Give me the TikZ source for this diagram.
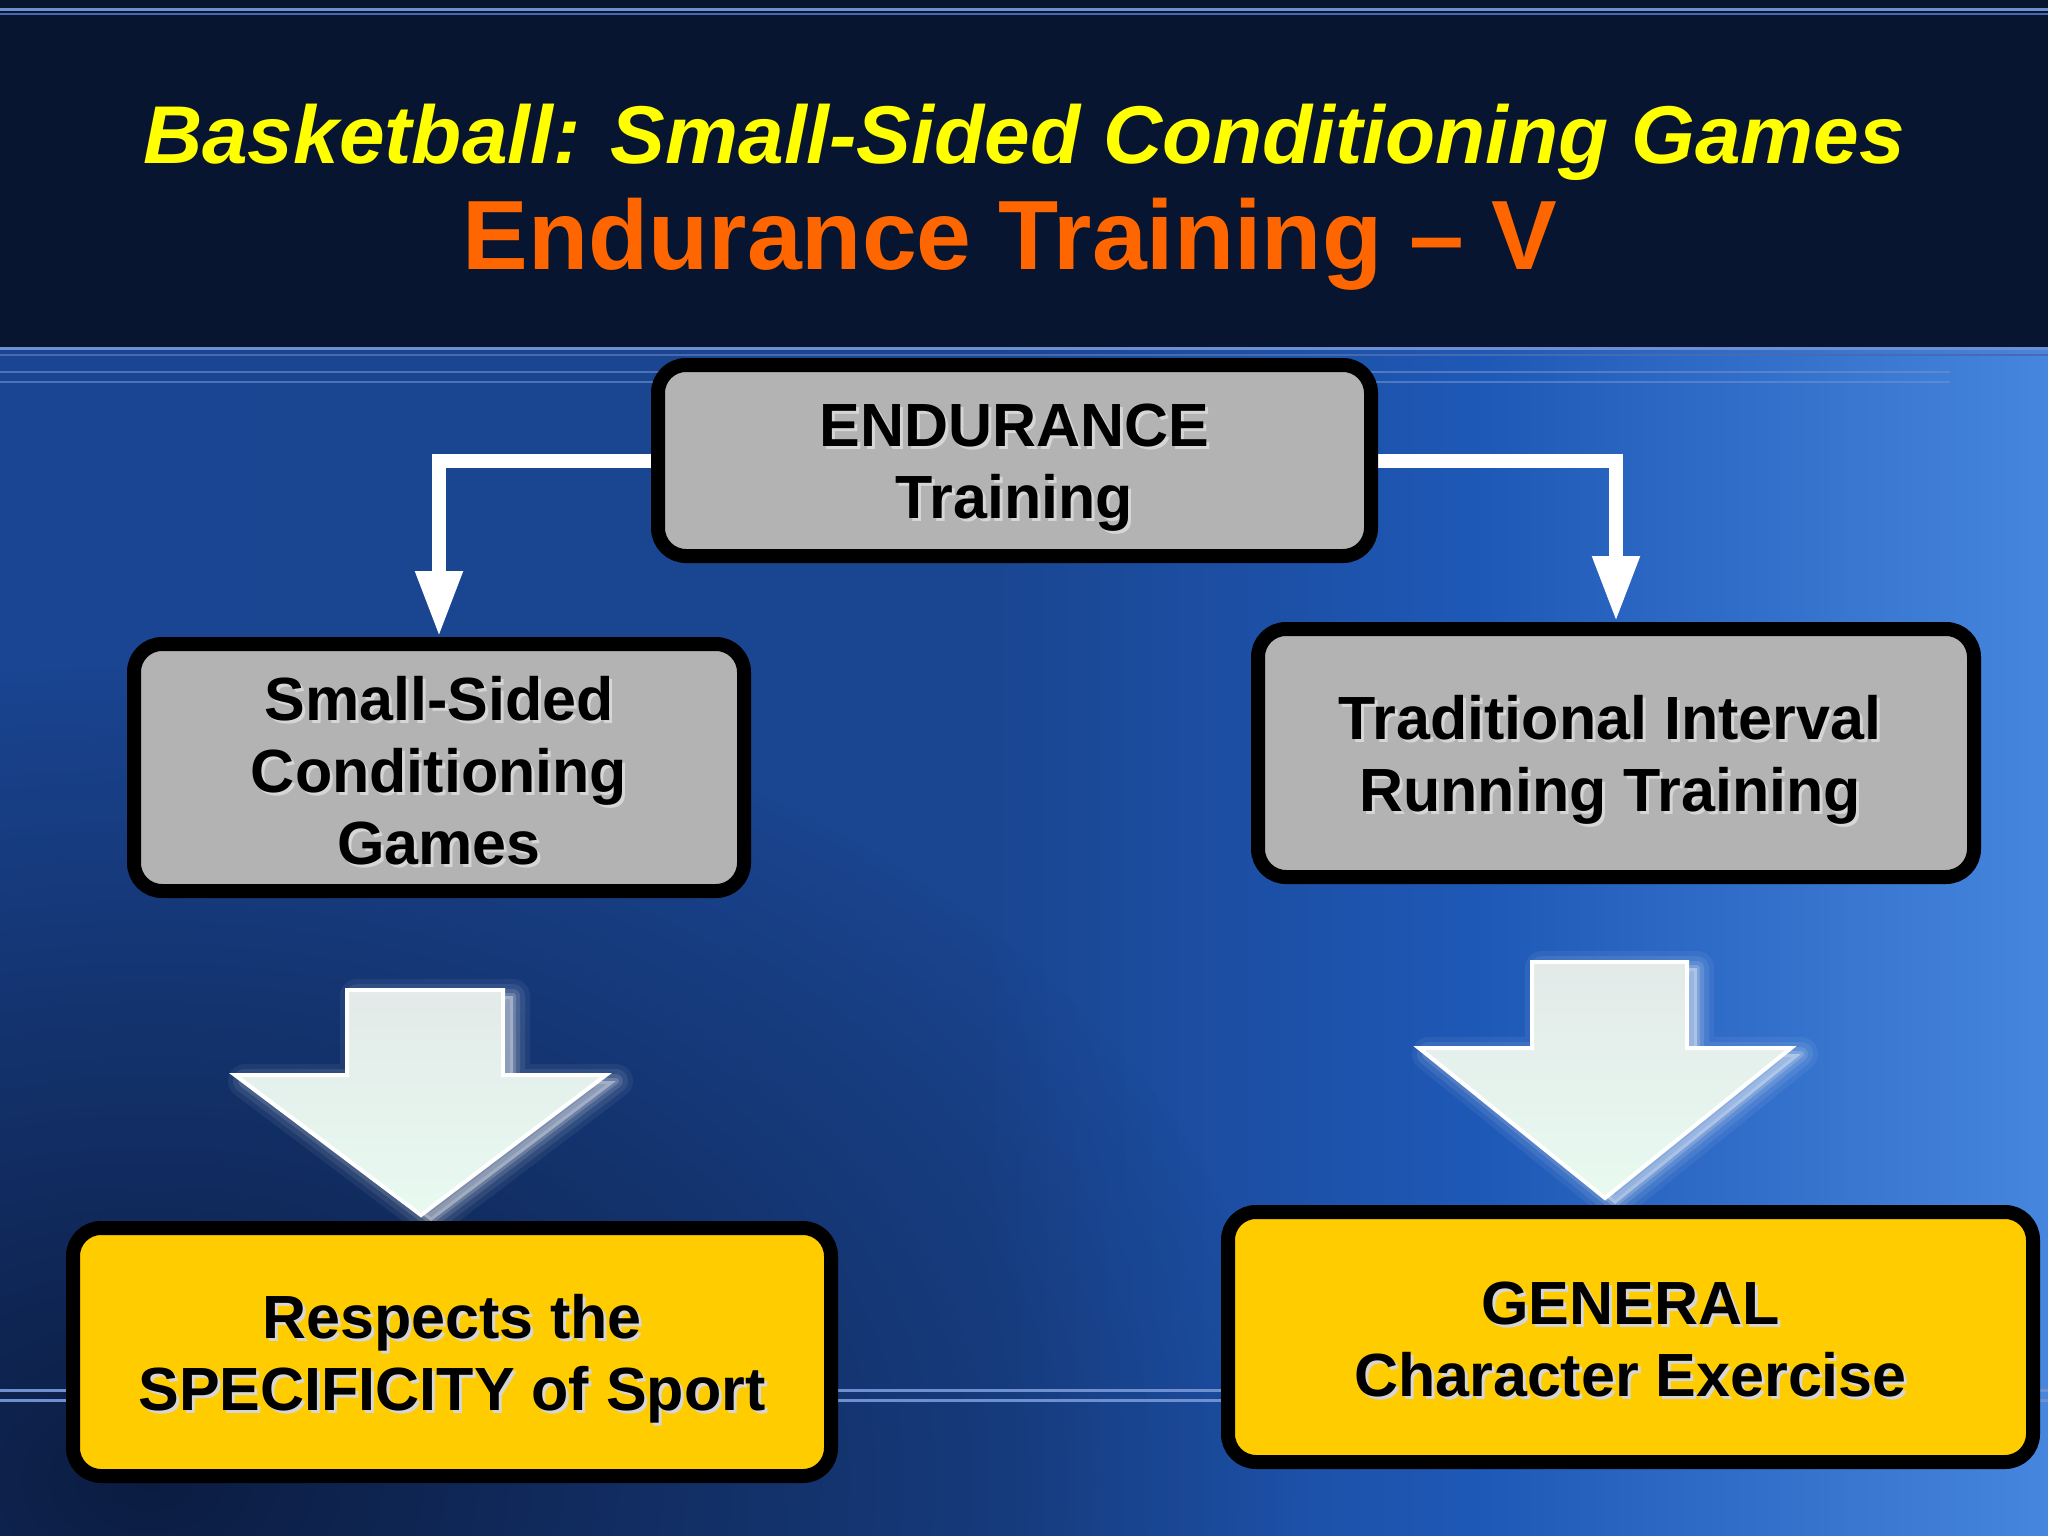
\documentclass[tikz,border=0pt]{standalone}
\usepackage{fontspec}
\setmainfont{Liberation Sans}
\usetikzlibrary{arrows.meta,fadings,backgrounds}

\definecolor{hdr}{HTML}{081530}
\definecolor{hlineA}{HTML}{6F90D0}
\definecolor{hlineB}{HTML}{4A6AB0}
\definecolor{boxgrey}{HTML}{B3B3B3}
\definecolor{boxyellow}{HTML}{FFCC00}
\definecolor{ttlyellow}{HTML}{FFFF00}
\definecolor{ttlorange}{HTML}{FF6600}
\definecolor{tshadow}{HTML}{D6D6D6}
\definecolor{mint}{HTML}{E8FAF0}
\definecolor{mintgrey}{HTML}{E3EAE9}
\definecolor{navy}{HTML}{0A1838}
\definecolor{bgA}{HTML}{1A4592}
\definecolor{bgB}{HTML}{1A4590}
\definecolor{bgC}{HTML}{1E58B6}
\definecolor{bgD}{HTML}{4686DE}

\pgfdeclarehorizontalshading{bgshade}{100bp}{color(0bp)=(bgA); color(25bp)=(bgA); color(49bp)=(bgB); color(61bp)=(bgC); color(75bp)=(bgD); color(100bp)=(bgD)}
\tikzfading[name=radfade, inner color=transparent!0, outer color=transparent!100]

\newcommand\shd[1]{\leavevmode\rlap{\kern3pt\raisebox{-3pt}{\textcolor{tshadow}{#1}}}#1}

\tikzset{
  box/.style={draw=black, line width=14pt, rounded corners=28pt, inner sep=0pt},
  gbox/.style={box, fill=boxgrey},
  ybox/.style={box, fill=boxyellow},
  boxtext/.style={align=center, inner sep=0pt, font=\fontsize{61}{72}\selectfont\bfseries, text=black},
  conn/.style={draw=white, line width=14pt, -{Triangle[width=44pt,length=66pt]}},
  bigarrow/.style={top color=mintgrey, bottom color=mint, draw=white, line width=4pt, line join=miter},
  glow/.style={draw=white, line join=round, fill=white},
}

\begin{document}
\begin{tikzpicture}[x=1pt,y=-1pt]
\useasboundingbox (0,0) rectangle (2048,1535);

\begin{pgfonlayer}{background}
  % blue background
  \shade[shading=bgshade] (0,340) rectangle (2048,1535);
  \fill[navy, path fading=radfade, fill opacity=0.9] (150,1480) ellipse [x radius=1150, y radius=820];
  % header
  \fill[hdr] (0,0) rectangle (2048,348);
  \draw[hlineA, line width=3pt] (0,9) -- (2048,9);
  \draw[hlineB, line width=2pt] (0,14) -- (2048,14);
  \draw[hlineA, line width=3pt] (0,348) -- (2048,348);
  \draw[hlineB, line width=2pt] (0,355) -- (2048,355);
  \draw[hlineA, line width=2pt, opacity=0.6] (0,372) -- (1950,372);
  \draw[hlineA, line width=2pt, opacity=0.6] (0,382) -- (1950,382);
  % bottom lines
  \draw[hlineA, line width=3pt] (0,1390) -- (2048,1390);
  \draw[hlineA, line width=3pt] (0,1400) -- (2048,1400);
\end{pgfonlayer}

% titles
\node[font=\fontsize{82}{90}\selectfont\bfseries\itshape, text=ttlyellow, anchor=base, inner sep=0pt]
  (title) at (1024,163) {Basketball: Small-Sided Conditioning Games};
\node[font=\fontsize{98.5}{100}\selectfont\bfseries, text=ttlorange, anchor=base, inner sep=0pt]
  (subtitle) at (1010,269) {Endurance Training – V};

% big block arrows with glow
\def\larrow{(347,990) -- (503,990) -- (503,1075) -- (606,1075) -- (421,1215) -- (235,1075) -- (347,1075) -- cycle}
\def\rarrow{(1532,962) -- (1687,962) -- (1687,1048) -- (1791,1048) -- (1605,1198) -- (1419,1048) -- (1532,1048) -- cycle}
\foreach \w/\o in {34/0.06, 24/0.08, 14/0.12, 6/0.18}{
  \begin{scope}[xshift=10pt, yshift=-6pt]
    \path[glow, line width=\w pt, opacity=\o] \larrow;
    \path[glow, line width=\w pt, opacity=\o] \rarrow;
  \end{scope}
}
\path[bigarrow] \larrow;
\path[bigarrow] \rarrow;

% boxes
\node[gbox, minimum width=713pt, minimum height=191pt] (top) at (1014.5,460.5) {};
\node[gbox, minimum width=610pt, minimum height=247pt] (left) at (439,767.5) {};
\node[gbox, minimum width=716pt, minimum height=248pt] (right) at (1616,753) {};
\node[ybox, minimum width=758pt, minimum height=248pt] (lefty) at (452,1352) {};
\node[ybox, minimum width=805pt, minimum height=250pt] (righty) at (1630.5,1337) {};

% box texts
\node[boxtext] (topT) at ([yshift=-9pt]top.center) {\shd{ENDURANCE}\\\shd{Training}};
\node[boxtext] (leftT) at ([yshift=-5pt]left.center) {\shd{Small-Sided}\\\shd{Conditioning}\\\shd{Games}};
\node[boxtext] (rightT) at ([xshift=-6pt,yshift=-8pt]right.center) {\shd{Traditional Interval}\\\shd{Running Training}};
\node[boxtext] (leftyT) at ([yshift=-8pt]lefty.center) {\shd{Respects the}\\\shd{SPECIFICITY of Sport}};
\node[boxtext] (rightyT) at ([yshift=-4pt]righty.center) {\shd{GENERAL}\\\shd{Character Exercise}};

% connectors
\begin{pgfonlayer}{background}
  \draw[conn] (top.west) -| (left.north);
  \draw[conn] (top.east) -| (right.north);
\end{pgfonlayer}
\end{tikzpicture}
\end{document}
